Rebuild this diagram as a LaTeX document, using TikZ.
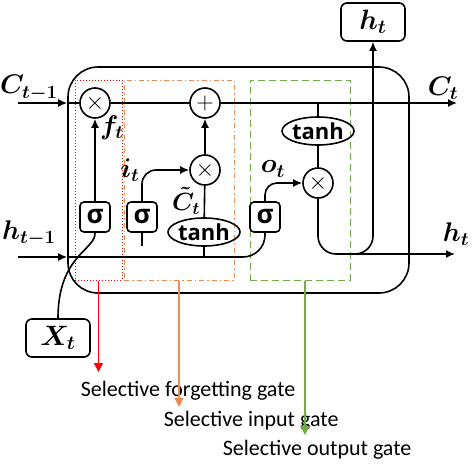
\RequirePackage{fix-cm}
\documentclass[tikz,border=0pt]{standalone}
\usepackage{graphicx}
\usepackage[no-math]{fontspec}
\setmainfont{Carlito}
\newfontfamily\opfont{Open Sans}
\definecolor{gatered}{RGB}{255, 0, 0}
\definecolor{gateorange}{RGB}{235, 140, 80}
\definecolor{gategreen}{RGB}{112, 173, 71}
\newcommand{\cellvar}[1]{\scalebox{1.3}{$#1$}}
\newcommand{\iovar}[1]{\scalebox{1.35}{$#1$}}
\usepackage{tikz}
\usetikzlibrary{arrows.meta}
\usetikzlibrary{positioning, shapes.geometric}
\usetikzlibrary{calc}

\begin{document}
\begin{tikzpicture}[x=1pt, y=-1pt, line width=1.6pt,
    cell/.style={draw, rounded corners=30pt, minimum width=341pt, minimum height=226pt, inner sep=0pt},
    op/.style={draw, circle, minimum size=30pt, inner sep=0pt, font=\fontsize{24}{24}\selectfont},
    sig/.style={draw, rounded corners=4pt, minimum size=30pt, inner sep=0pt, font=\opfont\bfseries\fontsize{26}{26}\selectfont},
    act/.style={draw, ellipse, minimum width=72pt, minimum height=28pt, inner sep=-1pt, font=\opfont\bfseries\fontsize{22}{22}\selectfont},
    var/.style={inner sep=0pt, font=\fontsize{20.74}{24}\selectfont\boldmath},
    io/.style={draw, rounded corners=6pt, minimum width=64pt, minimum height=38pt, inner sep=0pt, font=\fontsize{20.74}{24}\selectfont\boldmath},
    arr/.style={-{Latex[length=9pt, width=8pt]}},
    gatebox/.style={draw, line width=1pt, minimum height=200pt, inner sep=0pt},
    note/.style={line width=1.2pt, -{Triangle[length=9pt, width=9pt]}},
    lab/.style={inner sep=0pt, font=\fontsize{22}{22}\selectfont}]
    \useasboundingbox (0,0) rectangle (474,474);

    % LSTM cell
    \node[cell] (cell) at (238.5,180) {};

    % Gate regions
    \node[gatebox, draw=gatered, dotted, minimum width=47pt] (fgate) at (98.5,180) {};
    \node[gatebox, draw=gateorange, dash pattern=on 5pt off 3pt on 1.5pt off 3pt, minimum width=110pt] (igate) at (179,180) {};
    \node[gatebox, draw=gategreen, dash pattern=on 7pt off 4pt, minimum width=100pt] (ogate) at (300,180) {};

    % Pointwise operations
    \node[op] (fmul) at (95,103) {$\times$};
    \node[op] (cadd) at (205,103) {$+$};
    \node[op] (imul) at (205,170) {$\times$};
    \node[op] (omul) at (318,183) {$\times$};

    % Activations
    \node[sig] (fsig) at (95,217) {σ};
    \node[sig] (isig) at (142,217) {σ};
    \node[sig] (osig) at (265,217) {σ};
    \node[act] (itanh) at (204,232) {tanh};
    \node[act] (otanh) at (318,131) {tanh};

    % Inputs and outputs
    \node[io] (xt) at (58,338) {\iovar{X_t}};
    \node[io] (ht) at (373,22) {\iovar{h_t}};
    \coordinate (cin) at (18,103);
    \coordinate (cout) at (457,103);
    \coordinate (hin) at (18,257);
    \coordinate (hout) at (455,254);
    \coordinate (hsplit) at (350,254);

    % Variable labels
    \node[var] (cprev) at (29,88) {\cellvar{C_{t-1}}};
    \node[var] (hprev) at (29,233) {\cellvar{h_{t-1}}};
    \node[var] (ft) at (112,128) {\cellvar{f_t}};
    \node[var] (it) at (130,170) {\cellvar{i_t}};
    \node[var, anchor=east] (ctil) at (201,201) {\scalebox{1.2}{$\tilde{C}_t$}};
    \node[var] (ot) at (273,169) {\cellvar{o_t}};
    \node[var] (cnext) at (443,88) {\cellvar{C_t}};
    \node[var] (hnext) at (456,234) {\cellvar{h_t}};

    % Cell state
    \draw[arr] (cin) -- (cell.west |- cin);
    \draw (cell.west |- cin) -- (fmul) -- (cadd);
    \draw[arr] (cadd) -- (cout);

    % Forget gate
    \draw[arr] (fsig) -- (fmul);
    \draw (fsig.south) .. controls (96,250) and (58,255) .. (xt.north);

    % Input gate
    \draw (isig.south) -- ++(0,13);
    \draw[arr, rounded corners=14pt] (isig.north) |- (imul.west);
    \draw (itanh) -- (imul);
    \draw[arr] (imul) -- (cadd);

    % Hidden state in
    \draw[arr] (hin) -- (cell.west |- hin);
    \draw[rounded corners=22pt] (cell.west |- hin) -| (osig.south);
    \draw (itanh.south) -- (itanh.south |- hin);

    % Output gate
    \draw[arr, rounded corners=12pt] (osig.north) |- (omul.west);
    \draw (otanh.north) -- (otanh.north |- cin);
    \draw (otanh) -- (omul);
    \draw[arr, rounded corners=18pt] (omul.south) |- (hout);
    \draw[arr, rounded corners=18pt] (hsplit) -| (ht.south);

    % Gate names
    \node[lab, anchor=base west] (flab) at (80,396) {Selective forgetting gate};
    \node[lab, anchor=base west] (ilab) at (163,426) {Selective input gate};
    \node[lab, anchor=base west] (olab) at (222,455) {Selective output gate};
    \draw[note, gatered] (fgate.south) -- ($(fgate.south |- flab.base)+(0,-24)$);
    \draw[note, gateorange] (igate.south) -- ($(igate.south |- ilab.base)+(0,-19)$);
    \draw[note, gategreen] ([xshift=5pt]ogate.south) -- ($([xshift=5pt]ogate.south |- olab.base)+(0,-20)$);

\end{tikzpicture}
\end{document}
